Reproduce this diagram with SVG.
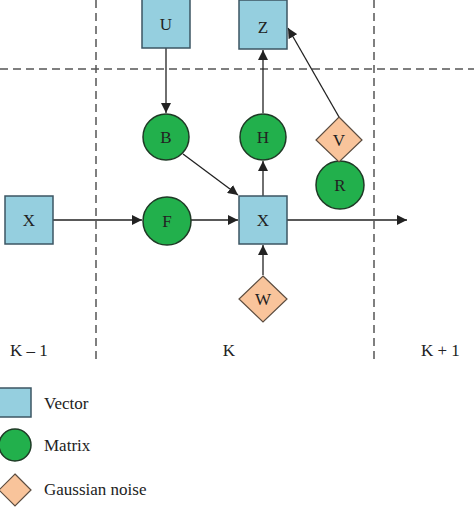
<svg xmlns="http://www.w3.org/2000/svg" width="474" height="507" viewBox="0 0 474 507">
<style>
.vec{fill:#95cfdf;stroke:#3d5663;stroke-width:1.5}
.mat{fill:#22b04c;stroke:#1f3a26;stroke-width:1.5}
.noise{fill:#f9c49b;stroke:#5c4d40;stroke-width:1.2}
.dash{stroke:#555;stroke-width:1.5;stroke-dasharray:8 5;fill:none}
.edge{stroke:#222;stroke-width:1.3;fill:none;marker-end:url(#ah)}
text{font-family:"Liberation Serif","DejaVu Serif",serif;font-size:17px;fill:#222}
.c{text-anchor:middle}
</style>
<defs>
<marker id="ah" viewBox="0 0 10 10" refX="10" refY="5" markerWidth="10" markerHeight="10" markerUnits="userSpaceOnUse" orient="auto">
<path d="M0,0 L10,5 L0,10 z" fill="#222"/>
</marker>
</defs>
<g id="grid">
<line class="dash" x1="96" y1="0" x2="96" y2="362"/>
<line class="dash" x1="374" y1="0" x2="374" y2="362"/>
<line class="dash" x1="0" y1="69" x2="474" y2="69"/>
</g>
<g id="connectors">
<line class="edge" x1="166" y1="48" x2="166" y2="113"/>
<line class="edge" x1="263" y1="113" x2="263" y2="50"/>
<line class="edge" x1="339" y1="117" x2="288" y2="28"/>
<line class="edge" x1="183" y1="154" x2="238" y2="195"/>
<line class="edge" x1="263" y1="196" x2="263" y2="161"/>
<line class="edge" x1="53" y1="220" x2="142" y2="220"/>
<line class="edge" x1="191" y1="220" x2="238" y2="220"/>
<line class="edge" x1="287" y1="220" x2="407" y2="220"/>
<line class="edge" x1="263" y1="275" x2="263" y2="245"/>
</g>
<g id="U"><rect class="vec" x="142" y="-2" width="48" height="50"/><text class="c" x="166" y="30">U</text></g>
<g id="Z"><rect class="vec" x="239" y="0" width="48" height="49"/><text class="c" x="263" y="33">Z</text></g>
<g id="B"><circle class="mat" cx="166" cy="137" r="23"/><text class="c" x="166" y="143">B</text></g>
<g id="H"><circle class="mat" cx="263" cy="137" r="23"/><text class="c" x="263" y="143">H</text></g>
<g id="R"><circle class="mat" cx="340" cy="185" r="24"/><text class="c" x="340" y="191">R</text></g>
<g id="V"><polygon class="noise" points="339,117 362,140 339,162 316,140"/><text class="c" x="339" y="146">V</text></g>
<g id="X0"><rect class="vec" x="5" y="196" width="48" height="48"/><text class="c" x="29" y="226">X</text></g>
<g id="F"><circle class="mat" cx="167" cy="221" r="24"/><text class="c" x="167" y="227">F</text></g>
<g id="X1"><rect class="vec" x="239" y="196" width="48" height="48"/><text class="c" x="263" y="226">X</text></g>
<g id="W"><polygon class="noise" points="263,276 287,299 263,322 239,299"/><text class="c" x="263" y="305">W</text></g>
<g id="labels">
<text x="10" y="356">K – 1</text>
<text class="c" x="229" y="356">K</text>
<text x="421" y="356">K + 1</text>
</g>
<g id="legend">
<rect class="vec" x="-2" y="388" width="33" height="29"/>
<text x="44" y="409">Vector</text>
<circle class="mat" cx="15" cy="445" r="16"/>
<text x="44" y="451">Matrix</text>
<polygon class="noise" points="15,474 31,490 15,506 -1,490"/>
<text x="44" y="495">Gaussian noise</text>
</g>
</svg>
